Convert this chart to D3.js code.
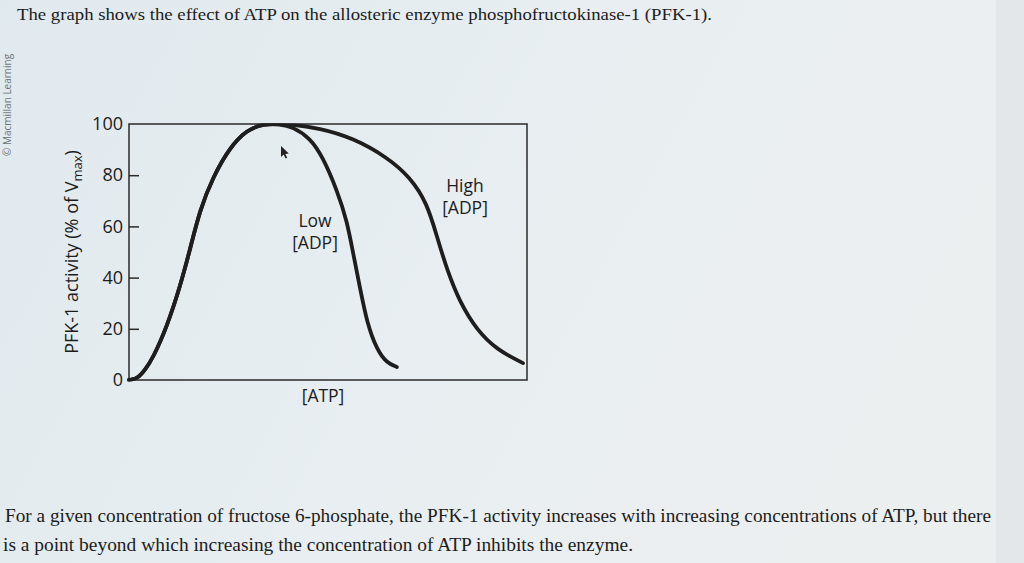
<!DOCTYPE html>
<html>
<head>
<meta charset="utf-8">
<script src="https://cdn.jsdelivr.net/npm/d3@7"></script>
<style>
	body { margin: 0; background: #e7edf0; }
	svg { display: block; }
</style>
</head>
<body>
<div id="graf"></div>
<script>
// valors llegits del gràfic (ATP en unitats arbitràries 0-100, activitat en % de Vmax)
const pujadaATP = [0, 0.3, 2.3, 4.0, 6.0, 9.5, 12.8, 15.3, 17.8, 21.1, 25.4, 29.6, 33.7, 37.9];
const pujadaAct = [0, 0, 0.8, 3.9, 8.5, 20.7, 36.3, 50.8, 66.4, 79.3, 91.0, 97.7, 100, 100];
const baixADP_ATP = [41.2, 45.5, 48.7, 52.3, 54.8, 56.3, 58.0, 59.8, 62.3, 64.8, 67.3, 67.3];
const baixADP_Act = [98.8, 94.5, 87.1, 74.0, 62.0, 49.6, 36.3, 22.3, 11.7, 6.6, 5.1, 5.1];
const altADP_ATP = [39.7, 48.0, 56.3, 64.8, 70.6, 74.9, 77.4, 79.9, 83.2, 87.4, 92.5, 99.0, 99.0];
const altADP_Act = [100, 98.4, 94.5, 87.1, 79.3, 69.1, 55.9, 43.0, 30.1, 19.5, 11.7, 6.6, 6.6];
const marques = [0, 20, 40, 60, 80, 100];

const titol = 'The graph shows the effect of ATP on the allosteric enzyme phosphofructokinase-1 (PFK-1).';
const peu = [
	'For a given concentration of fructose 6-phosphate, the PFK-1 activity increases with increasing concentrations of ATP, but there',
	'is a point beyond which increasing the concentration of ATP inhibits the enzyme.'
];

const Amplada = 1024, Alçada = 563;
const marge = {dalt: 124, dreta: 497, baix: 183, esquerra: 129};
const amplada = Amplada - marge.esquerra - marge.dreta;
const alçada = Alçada - marge.dalt - marge.baix;

const svg = d3.select('#graf').append('svg')
	.attr('width', Amplada)
	.attr('height', Alçada);

// fons de la foto de pantalla
const defs = svg.append('defs');
const grad = defs.append('linearGradient')
	.attr('id', 'fons').attr('x1', 0).attr('y1', 0).attr('x2', 1).attr('y2', 0.3);
grad.append('stop').attr('offset', 0).attr('stop-color', '#e0e9ee');
grad.append('stop').attr('offset', 0.55).attr('stop-color', '#e8eef1');
grad.append('stop').attr('offset', 1).attr('stop-color', '#eceff0');
svg.append('rect').attr('width', Amplada).attr('height', Alçada).attr('fill', 'url(#fons)');
svg.append('rect').attr('x', 996).attr('width', 28).attr('height', Alçada).attr('fill', '#e3e7e9');

svg.append('text')
	.attr('x', 17).attr('y', 20)
	.attr('font-family', 'Liberation Serif')
	.attr('font-size', 17)
	.attr('fill', '#1c1c1c')
	.attr('textLength', 695).attr('lengthAdjust', 'spacingAndGlyphs')
	.text(titol);

svg.append('text')
	.attr('transform', 'translate(11,156) rotate(-90)')
	.attr('font-family', 'Open Sans')
	.attr('font-size', 10)
	.attr('fill', '#6f7478')
	.text('© Macmillan Learning');

peu.forEach((l, i) => {
	svg.append('text')
		.attr('x', i ? 3 : 5).attr('y', i ? 551 : 522)
		.attr('font-family', 'Liberation Serif')
		.attr('font-size', 18)
		.attr('fill', '#1c1c1c')
		.attr('textLength', i ? 630 : 986).attr('lengthAdjust', 'spacingAndGlyphs')
		.text(l);
});

const g = svg.append('g').attr('transform', `translate(${marge.esquerra},${marge.dalt})`);

const x = d3.scaleLinear().domain([0, 100]).range([0, amplada]);
const y = d3.scaleLinear().domain([0, 100]).range([alçada, 0]);

defs.append('clipPath').attr('id', 'marc')
	.append('rect').attr('x', -2).attr('y', -0.5).attr('width', amplada + 4).attr('height', alçada + 2);

g.append('rect')
	.attr('width', amplada).attr('height', alçada)
	.attr('fill', 'none').attr('stroke', '#2a2a2a').attr('stroke-width', 1.5);

const eixY = g.append('g')
	.call(d3.axisLeft(y).tickValues(marques).tickSize(-10).tickPadding(6));
eixY.select('.domain').remove();
eixY.selectAll('line').attr('stroke', '#2a2a2a').attr('stroke-width', 1.5);
eixY.selectAll('line').filter(d => d === 0 || d === 100).remove();
eixY.selectAll('text')
	.attr('font-family', 'Open Sans')
	.attr('font-size', 18)
	.attr('fill', '#1c1c1c');

svg.append('text')
	.attr('transform', 'translate(78,252) rotate(-90)')
	.attr('text-anchor', 'middle')
	.attr('font-family', 'Open Sans')
	.attr('font-size', 18)
	.attr('fill', '#1c1c1c')
	.call(t => {
		t.append('tspan').text('PFK-1 activity (% of V');
		t.append('tspan').attr('font-size', 13).attr('dy', 4).text('max');
		t.append('tspan').attr('dy', -4).text(')');
	});

const punts = (xs, ys) => xs.map((v, i) => [v, ys[i]]);
const corba = d3.line()
	.x(d => x(d[0]))
	.y(d => y(d[1]))
	.curve(d3.curveBasis);

const sèries = [
	punts(pujadaATP, pujadaAct).concat(punts(baixADP_ATP, baixADP_Act)),
	punts(pujadaATP, pujadaAct).concat(punts(altADP_ATP, altADP_Act))
];

g.append('g').attr('clip-path', 'url(#marc)')
	.selectAll('path.corba')
	.data(sèries)
	.join('path')
	.attr('class', 'corba')
	.attr('d', corba)
	.attr('fill', 'none')
	.attr('stroke', '#1e1e1e')
	.attr('stroke-width', 3.8)
	.attr('stroke-linecap', 'round')
	.attr('stroke-linejoin', 'round');

const etiquetes = [
	{t: ['Low', '[ADP]'], x: 315, y: 227},
	{t: ['High', '[ADP]'], x: 465, y: 192},
	{t: ['[ATP]'], x: 323, y: 402}
];
etiquetes.forEach(e => {
	e.t.forEach((l, i) => {
		svg.append('text')
			.attr('x', e.x).attr('y', e.y + i * 22)
			.attr('text-anchor', 'middle')
			.attr('font-family', 'Open Sans')
			.attr('font-size', 17.5)
			.attr('fill', '#1c1c1c')
			.text(l);
	});
});

// punter del ratolí que surt a la foto
svg.append('path')
	.attr('transform', 'translate(281,146)')
	.attr('d', 'M0,0 L0,11 L2.6,8.6 L4.6,12.6 L6.2,11.8 L4.3,7.9 L7.8,7.6 Z')
	.attr('fill', '#222');
</script>
</body>
</html>
